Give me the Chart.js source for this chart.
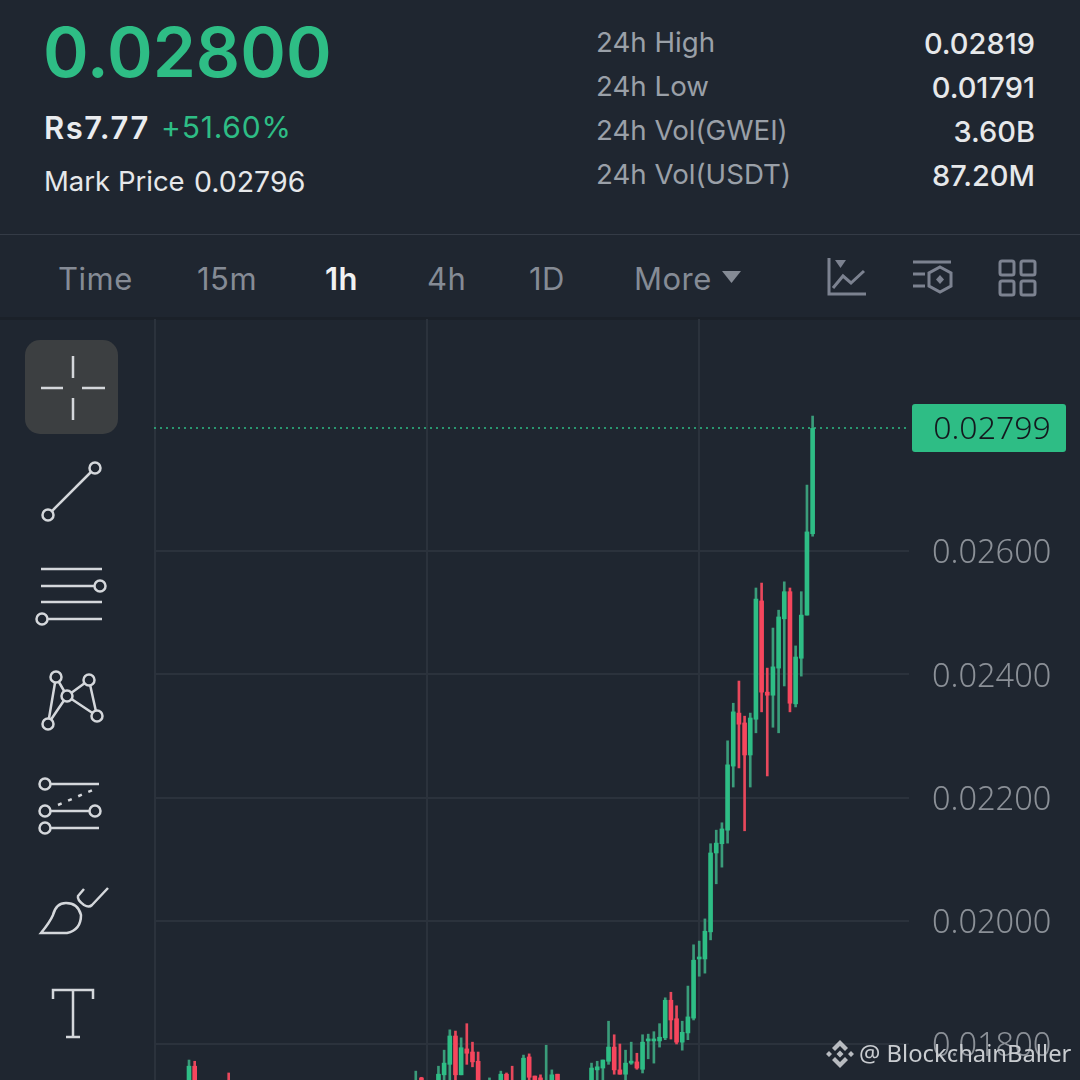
<!DOCTYPE html>
<html>
<head>
<meta charset="utf-8">
<script src="https://cdn.jsdelivr.net/npm/chart.js@4"></script>
<style>
  html, body { margin: 0; padding: 0; background: #1f2630; }
  #page { position: relative; width: 1080px; height: 1080px; overflow: hidden; background: #1f2630; font-family: "Inter", "Noto Sans", sans-serif; }
  #page div.t { position: absolute; white-space: nowrap; line-height: 1; transform: translateY(-50%); }
  .lab { left: 596px; color: #9aa0a8; font-size: 27.700px; }
  .val { right: 45px; color: #e6e8ea; font-size: 29px; font-weight: 500; }
  .tab { color: #858b95; font-size: 31px; letter-spacing: .5px; }
  #rule { position: absolute; left: 0; top: 234px; width: 1080px; height: 1px; background: #343b46; }
  #band { position: absolute; left: 0; top: 317px; width: 1080px; height: 3px; background: #1b2129; }
  #wrap { position: absolute; left: 0; top: 319px; }
  svg.ic { position: absolute; left: 0; top: 0; }
</style>
</head>
<body>
<div id="page">
  <div class="t" style="left:43px;top:53px;font-size:69.300px;font-weight:600;color:#2ebd85">0.02800</div>
  <div class="t" style="left:44px;top:127px;font-size:31px;font-weight:600;color:#eaecef;letter-spacing:1.500px">Rs7.77</div>
  <div class="t" style="left:161px;top:127px;font-size:30px;color:#2ebd85;letter-spacing:.8px">+51.60%</div>
  <div class="t" style="left:44px;top:182px;font-size:27.500px;color:#e6e8ea">Mark Price</div>
  <div class="t" style="left:194px;top:182px;font-size:28.500px;color:#e6e8ea">0.02796</div>

  <div class="t lab" style="top:43px">24h High</div>
  <div class="t lab" style="top:87px">24h Low</div>
  <div class="t lab" style="top:131px">24h Vol(GWEI)</div>
  <div class="t lab" style="top:175px">24h Vol(USDT)</div>
  <div class="t val" style="top:43px">0.02819</div>
  <div class="t val" style="top:87px">0.01791</div>
  <div class="t val" style="top:131px">3.60B</div>
  <div class="t val" style="top:175px">87.20M</div>

  <div id="rule"></div>
  <div class="t tab" style="left:58px;top:278px">Time</div>
  <div class="t tab" style="left:197px;top:278px">15m</div>
  <div class="t tab" style="left:325px;top:278px;color:#f0f1f2;font-weight:600">1h</div>
  <div class="t tab" style="left:427px;top:278px">4h</div>
  <div class="t tab" style="left:529px;top:278px">1D</div>
  <div class="t tab" style="left:634px;top:278px">More</div>
  <div id="band"></div>

  <div id="wrap"><canvas id="chart" width="1080" height="761"></canvas></div>

  <svg class="ic" width="1080" height="1080" fill="none" stroke-linecap="butt">
    <path d="M722 271h19l-9.500 12z" fill="#858b95"/>
    <g stroke="#7c8290" stroke-width="3">
      <path d="M829 258V294H866"/>
      <path d="M833 288L843 276L851 283L864 271"/>
      <path d="M913 262H951M913 274H925M913 286H925"/>
      <path d="M940 267L951 273V286L940 292L929 286V273Z"/>
      <rect x="1000" y="261" width="14" height="14" rx="2"/>
      <rect x="1021" y="261" width="14" height="14" rx="2"/>
      <rect x="1000" y="281" width="14" height="14" rx="2"/>
      <rect x="1021" y="281" width="14" height="14" rx="2"/>
    </g>
    <path d="M835 260H846L840.500 268Z" fill="#7c8290"/>
    <path d="M940 275L944 279.500L940 284L936 279.500Z" fill="#7c8290"/>

    <rect x="25" y="340" width="93" height="94" rx="15" fill="#3c3f41"/>
    <g stroke="#d4d7db" stroke-width="2.500">
      <path d="M73 356V378M73 398V420M41 388H63M82 388H105"/>
      <path d="M52 511L91 472"/>
      <circle cx="48" cy="515" r="5.500"/><circle cx="95" cy="468" r="5.500"/>
      <path d="M41 569H102M41 586H94M41 602H102M48 619H102"/>
      <circle cx="100" cy="586" r="5.500"/><circle cx="42" cy="619" r="5.500"/>
      <path d="M56 677L48 724M56 677L67 696M48 724L67 696M67 696L89 680M67 696L97 716M89 680L97 716"/>
      <g fill="#1f2630">
        <circle cx="56" cy="677" r="5.500"/><circle cx="89" cy="680" r="5.500"/><circle cx="67" cy="696" r="5.500"/>
        <circle cx="48" cy="724" r="5.500"/><circle cx="97" cy="716" r="5.500"/>
      </g>
      <path d="M51 784H99M51 811H89M51 828H99"/>
      <path d="M58 805L95 789" stroke-dasharray="4 7"/>
      <circle cx="45" cy="784" r="5.500"/><circle cx="45" cy="811" r="5.500"/>
      <circle cx="95" cy="811" r="5.500"/><circle cx="45" cy="828" r="5.500"/>
      <path d="M41 933H67Q81 930 81 915Q78 903 66 903Q56 903 53 915Q50 922 41 933Z"/>
      <path d="M84 889L78 896Q77 900 84 905Q89 908 92 905L108 888"/>
      <path d="M53 999V990H93V999M73 990V1037M66 1037H80"/>
    </g>

    <path fill="#c9ccd0" opacity="0.9" d="M840 1040L848 1048L845 1051L840 1046L835 1051L832 1048Z M840 1068L848 1060L845 1057L840 1062L835 1057L832 1060Z M829 1051L832 1054L829 1057L826 1054Z M851 1051L854 1054L851 1057L848 1054Z M840 1050.500L843.500 1054L840 1057.500L836.500 1054Z"/>
  </svg>
  <div class="t" style="left:859px;top:1054px;font-family:'Noto Sans';font-size:23.800px;color:#c9ccd0">@ BlockchainBaller</div>
</div>

<script>
// candle slots, only the ones that reach into the visible part of the panel
const slots = [6, 7, 13, 46, 47, 50, 51, 52, 53, 54, 55, 56, 57, 59, 61, 62, 63, 65, 66, 67, 68, 69, 70, 71, 77, 78, 79, 80, 81, 82, 83, 84, 85, 86, 87, 88, 89, 90, 91, 92, 93, 94, 95, 96, 97, 98, 99, 100, 101, 102, 103, 104, 105, 106, 107, 108, 109, 110, 111, 112, 113, 114, 115, 116];
const opens = [0.01725, 0.01764, 0.01735, 0.01717, 0.01745, 0.01725, 0.0175, 0.01767, 0.01813, 0.0175, 0.01792, 0.01787, 0.01772, 0.01717, 0.01725, 0.01751, 0.01735, 0.01725, 0.01779, 0.01748, 0.01745, 0.01717, 0.01725, 0.01751, 0.01725, 0.01758, 0.01761, 0.01772, 0.01795, 0.01758, 0.01751, 0.01769, 0.01771, 0.01759, 0.01805, 0.01805, 0.01805, 0.0181, 0.01871, 0.01841, 0.01803, 0.01818, 0.01842, 0.01938, 0.01938, 0.01982, 0.0211, 0.02125, 0.02147, 0.02251, 0.02337, 0.02321, 0.02269, 0.02327, 0.02519, 0.02371, 0.02366, 0.0241, 0.0249, 0.02534, 0.02352, 0.02426, 0.02496, 0.02628];
const closes = [0.01764, 0.01725, 0.01717, 0.01735, 0.01725, 0.01751, 0.01769, 0.01813, 0.0175, 0.01794, 0.01785, 0.01771, 0.01725, 0.01735, 0.01751, 0.01725, 0.01717, 0.01777, 0.01746, 0.01725, 0.01725, 0.01735, 0.0175, 0.01725, 0.01761, 0.01763, 0.01774, 0.01795, 0.01758, 0.01751, 0.01769, 0.01772, 0.01761, 0.01803, 0.01808, 0.01808, 0.01811, 0.01871, 0.01839, 0.01803, 0.01819, 0.01844, 0.01936, 0.01941, 0.01983, 0.0211, 0.02126, 0.02149, 0.02253, 0.02339, 0.02319, 0.02269, 0.02329, 0.02522, 0.02371, 0.02366, 0.02412, 0.02493, 0.02534, 0.02353, 0.02428, 0.02496, 0.02631, 0.02799];
const highs = [0.01774, 0.01772, 0.01753, 0.01756, 0.01746, 0.01764, 0.0179, 0.01823, 0.01821, 0.0181, 0.01833, 0.01803, 0.01787, 0.01745, 0.01756, 0.01753, 0.01764, 0.01782, 0.01784, 0.01748, 0.0175, 0.01798, 0.01758, 0.01751, 0.01769, 0.01772, 0.01774, 0.01837, 0.01815, 0.018, 0.0179, 0.01803, 0.01785, 0.01815, 0.01816, 0.0182, 0.01833, 0.01875, 0.01884, 0.01862, 0.01837, 0.01894, 0.01961, 0.01967, 0.02003, 0.02125, 0.02147, 0.02159, 0.02292, 0.02353, 0.02389, 0.02332, 0.02337, 0.0254, 0.02548, 0.0241, 0.02475, 0.02504, 0.0255, 0.0254, 0.02446, 0.02534, 0.02707, 0.02819];
const lows = [0.01717, 0.01717, 0.01709, 0.01709, 0.01717, 0.01717, 0.01735, 0.01735, 0.01735, 0.0175, 0.01767, 0.01763, 0.01717, 0.01709, 0.01717, 0.01717, 0.01709, 0.01717, 0.01742, 0.01717, 0.01717, 0.01709, 0.01717, 0.01717, 0.01717, 0.01735, 0.01725, 0.01767, 0.01751, 0.01751, 0.01735, 0.01767, 0.01759, 0.01753, 0.01776, 0.01769, 0.01795, 0.01807, 0.01808, 0.018, 0.0179, 0.01807, 0.01839, 0.0191, 0.01915, 0.01969, 0.0206, 0.02087, 0.02126, 0.02217, 0.02248, 0.02146, 0.02217, 0.02305, 0.02339, 0.02235, 0.02314, 0.02305, 0.02381, 0.02339, 0.02347, 0.02397, 0.02496, 0.02624];

const yTicks = [0.018, 0.02, 0.022, 0.024, 0.026];
const lastPrice = 0.02799;
const slotCount = 134;   // slots across the plot
const gridEvery = 48;    // one vertical line per 48 candles

const GREEN = '#2ebd85';
const RED = '#f6465d';
const GREEN_WICK = '#3a9c7a';
const RED_WICK = '#e8485c';

const labels = [];
const bodies = [];
const wicks = [];
const bodyColors = [];
const wickColors = [];
for (let i = 0; i < slotCount; i++) {
  labels.push(String(i));
  bodies.push(null);
  wicks.push(null);
  bodyColors.push(GREEN);
  wickColors.push(GREEN_WICK);
}
slots.forEach((s, i) => {
  bodies[s] = [opens[i], closes[i]];
  wicks[s] = [lows[i], highs[i]];
  const up = closes[i] >= opens[i];
  bodyColors[s] = up ? GREEN : RED;
  wickColors[s] = up ? GREEN_WICK : RED_WICK;
});

// dotted last price line with its tag on the axis
const priceTag = {
  id: 'priceTag',
  afterDraw(chart) {
    const c = chart.ctx;
    const y = Math.floor(chart.scales.y.getPixelForValue(lastPrice));
    c.save();
    c.strokeStyle = GREEN;
    c.lineWidth = 1.5;
    c.setLineDash([2, 4]);
    c.beginPath();
    c.moveTo(154, y);
    c.lineTo(908, y);
    c.stroke();
    c.setLineDash([]);
    c.fillStyle = GREEN;
    c.beginPath();
    c.roundRect(912, y - 24, 154, 48, 3);
    c.fill();
    c.fillStyle = '#14181e';
    c.font = '300 32px "Noto Sans"';
    c.textAlign = 'center';
    c.textBaseline = 'middle';
    c.fillText(lastPrice.toFixed(5), 992, y + 2);
    c.restore();
  }
};

new Chart(document.getElementById('chart').getContext('2d'), {
  type: 'bar',
  data: {
    labels: labels,
    datasets: [
      { label: 'Body', data: bodies, backgroundColor: bodyColors, barThickness: 4, grouped: false, minBarLength: 2 },
      { label: 'Wick', data: wicks, backgroundColor: wickColors, barThickness: 2, grouped: false }
    ]
  },
  options: {
    responsive: false,
    animation: false,
    devicePixelRatio: 1,
    layout: { padding: { left: 155, right: 0, top: 0, bottom: 0 } },
    plugins: { legend: { display: false }, tooltip: { enabled: false } },
    scales: {
      x: {
        offset: false,
        border: { display: false },
        grid: { color: '#2b323c', lineWidth: 2, offset: false, drawTicks: false },
        ticks: { display: false, autoSkip: false },
        afterBuildTicks(axis) {
          axis.ticks = axis.ticks.filter((t) => t.value % gridEvery === 0);
        }
      },
      y: {
        position: 'right',
        min: 0.017416,
        max: 0.029765,
        border: { display: false },
        grid: { color: '#2b323c', lineWidth: 2, drawTicks: false },
        ticks: {
          color: '#8b9097',
          font: { family: '"Noto Sans"', size: 32.5, weight: '300' },
          padding: 23,
          labelOffset: 3,
          callback: (v) => v.toFixed(5)
        },
        afterBuildTicks(axis) {
          axis.ticks = yTicks.map((v) => ({ value: v }));
        },
        afterFit(axis) {
          axis.width = 171;
          axis.paddingTop = 0;
          axis.paddingBottom = 0;
        }
      }
    }
  },
  plugins: [priceTag]
});
</script>
</body>
</html>
